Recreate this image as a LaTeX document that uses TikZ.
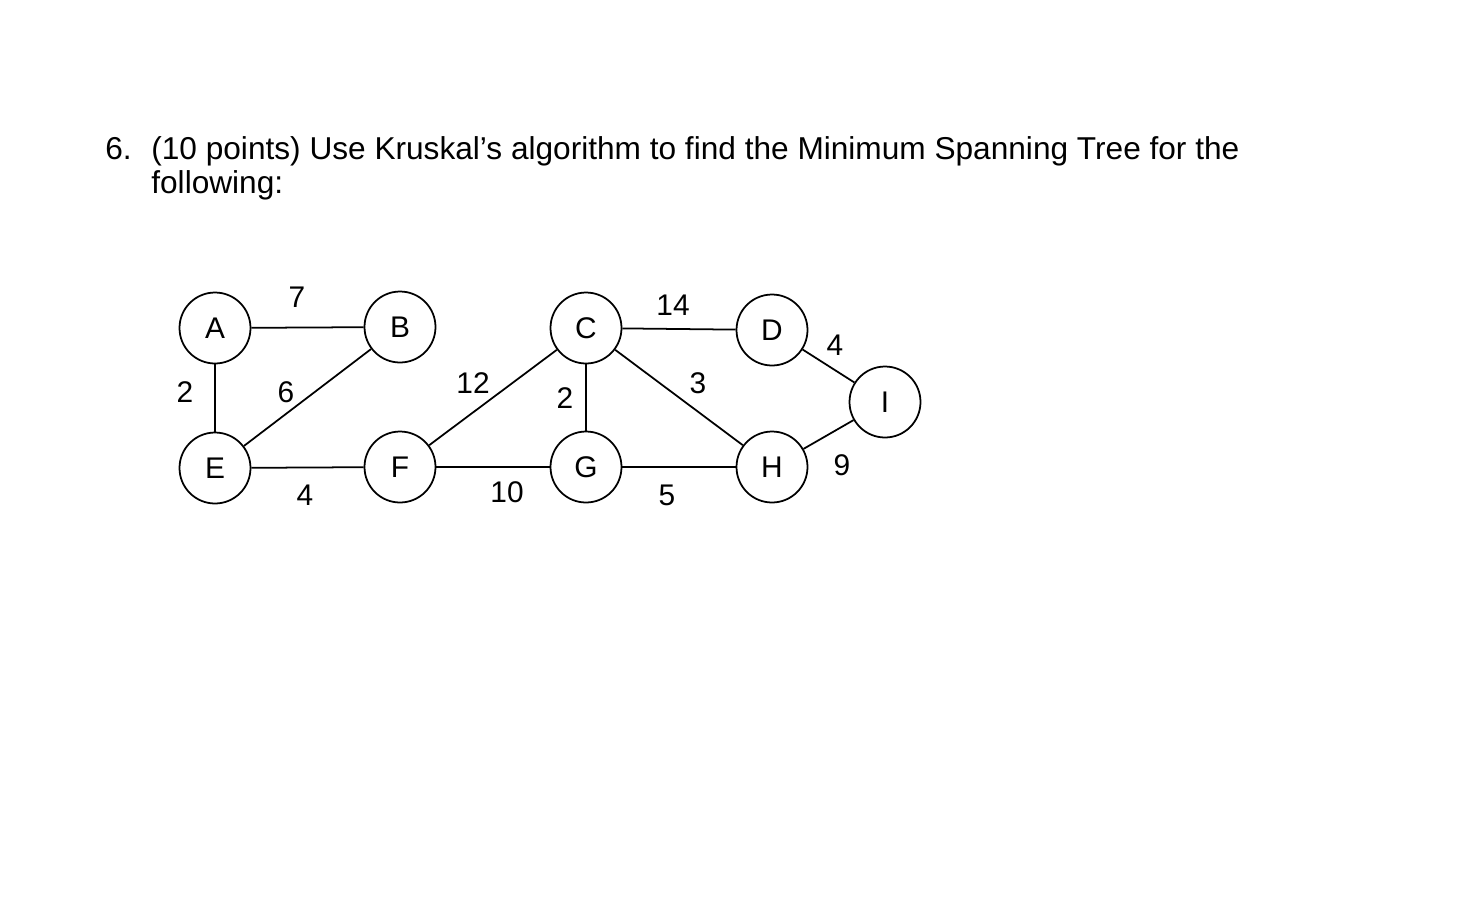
\documentclass[tikz,border=0pt]{standalone}
\usepackage{fontspec}
\setmainfont{Liberation Sans}
\usetikzlibrary{positioning}

\tikzset{
    vertex/.style={draw, circle, line width=1pt, minimum size=1.42cm, inner sep=0pt, fill=white},
    weight/.style={inner sep=0pt},
    edge/.style={line width=1pt},
    question/.style={anchor=base west, inner sep=0pt, font=\fontsize{18}{21}\selectfont}
}

\begin{document}
\begin{tikzpicture}[x=0.02cm, y=-0.02cm, font=\fontsize{17}{20}\selectfont]
        \useasboundingbox (0, 0) rectangle (1460, 907);

        \node [question] (Num) at (105, 159) {6.};
        \node [question] (Q1) at (151, 159) {(10 points) Use Kruskal’s algorithm to find the Minimum Spanning Tree for the};
        \node [question] (Q2) at (151, 193) {following:};

        \node [vertex] (Na) at (215, 328) {A};
        \node [vertex] (Nb) at (400, 327) {B};
        \node [vertex] (Nc) at (586, 328) {C};
        \node [vertex] (Nd) at (772, 330) {D};
        \node [vertex] (Ne) at (215, 468) {E};
        \node [vertex] (Nf) at (400, 467) {F};
        \node [vertex] (Ng) at (586, 467) {G};
        \node [vertex] (Nh) at (772, 467) {H};
        \node [vertex] (Ni) at (885, 402) {I};

        \draw [edge] (Na) -- (Nb);
        \draw [edge] (Na) -- (Ne);
        \draw [edge] (Nb) -- (Ne);
        \draw [edge] (Ne) -- (Nf);
        \draw [edge] (Nf) -- (Nc);
        \draw [edge] (Nf) -- (Ng);
        \draw [edge] (Nc) -- (Ng);
        \draw [edge] (Nc) -- (Nd);
        \draw [edge] (Nc) -- (Nh);
        \draw [edge] (Ng) -- (Nh);
        \draw [edge] (Nd) -- (Ni);
        \draw [edge] (Nh) -- (Ni);

        \node [weight] (Wab) at (297, 297) {7};
        \node [weight] (Wae) at (185, 392) {2};
        \node [weight] (Wbe) at (286, 392) {6};
        \node [weight] (Wef) at (305, 495) {4};
        \node [weight] (Wcf) at (473, 383) {12};
        \node [weight] (Wfg) at (507, 492) {10};
        \node [weight] (Wcg) at (565, 398) {2};
        \node [weight] (Wcd) at (673, 305) {14};
        \node [weight] (Wch) at (698, 383) {3};
        \node [weight] (Wgh) at (667, 495) {5};
        \node [weight] (Wdi) at (835, 345) {4};
        \node [weight] (Whi) at (842, 465) {9};
    \end{tikzpicture}
\end{document}
